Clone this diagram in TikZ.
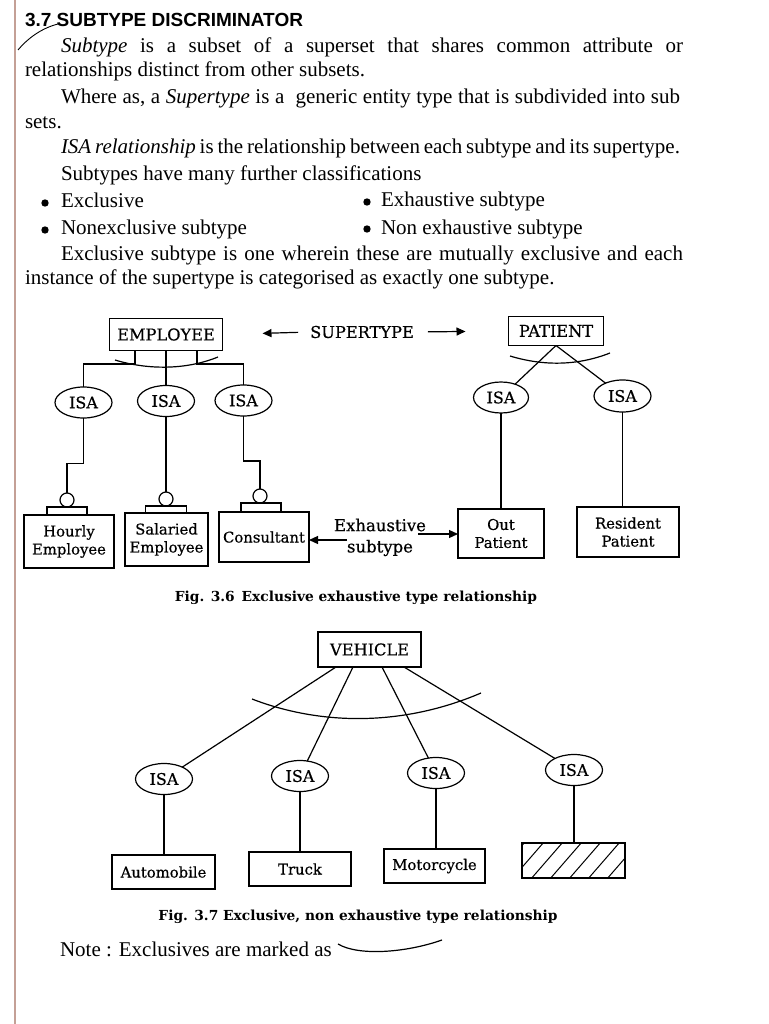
\documentclass[tikz,border=0pt]{standalone}
\usepackage{fontspec}
\setmainfont{Liberation Serif}
\newfontfamily\dfont[FakeBold=0.5]{DejaVu Serif}
\newfontfamily\cfont{DejaVu Serif}
\newfontfamily\tfont{Liberation Sans}
\usetikzlibrary{shapes.geometric,arrows.meta,calc}
\begin{document}
\begin{tikzpicture}[x=1pt,y=-1pt,
  every node/.style={inner sep=0pt, outer sep=0pt},
  body/.style={anchor=base west, font=\fontsize{21}{24}\selectfont},
  lbl/.style={font=\dfont\fontsize{14.8}{18}\selectfont, align=center},
  ent/.style={draw, line width=1.2pt, rectangle, lbl},
  isa/.style={draw, line width=1.2pt, ellipse, minimum width=57pt, minimum height=31pt, font=\dfont\fontsize{16}{17}\selectfont},
  ring/.style={draw, line width=1.2pt, circle, minimum size=14pt},
  bar/.style={draw, line width=1.2pt, rectangle, minimum width=40pt},
  conn/.style={line width=1.2pt},
  arw/.style={line width=1.2pt, -{Triangle[length=9pt,width=8pt]}},
  capt/.style={font=\cfont\bfseries\fontsize{13.8}{16}\selectfont}
]
\useasboundingbox (0,0) rectangle (768,1024);
\fill[white] (0,0) rectangle (768,1024);
\draw[color={rgb,255:red,196;green,160;blue,150}, line width=2pt] (15,0) -- (15,1024);

% ---- text ----
\node[anchor=base west, font=\tfont\bfseries\fontsize{19}{22}\selectfont] (title) at (25,27) {3.7 SUBTYPE DISCRIMINATOR};
\draw[line width=0.9pt] (18,50) .. controls (28,38) and (42,28) .. (58,24);
\node[body] (l1) at (61,53) {\makebox[622pt][s]{\textit{Subtype} is a subset of a superset that shares common attribute or}};
\node[body] (l2) at (25,77) {relationships distinct from other subsets.};
\node[body] (l3) at (61,104) {\makebox[619pt][s]{Where as, a \textit{Supertype} is a\ \ generic entity type that is subdivided into sub}};
\node[body] (l4) at (25,129) {sets.};
\node[body] (l5) at (61,154) {\makebox[619pt][s]{\textit{ISA relationship} is the relationship between each subtype and its supertype.}};
\node[body] (l6) at (61,181) {Subtypes have many further classifications};
\fill (45,203) circle (3.7);
\node[body] (b1t) at (61,208) {Exclusive};
\fill (367,202) circle (3.7);
\node[body] (b2t) at (381,207) {Exhaustive subtype};
\fill (45,230) circle (3.7);
\node[body] (b3t) at (61,235) {Nonexclusive subtype};
\fill (367,229) circle (3.7);
\node[body] (b4t) at (381,234) {Non exhaustive subtype};
\node[body] (l9) at (61,260) {\makebox[622pt][s]{Exclusive subtype is one wherein these are mutually exclusive and each}};
\node[body] (l10) at (25,284) {instance of the supertype is categorised as exactly one subtype.};

% ---- Fig 3.6 ----
\node[ent, minimum width=113pt, minimum height=32pt, font=\dfont\fontsize{16.2}{18}\selectfont] (emp) at (166,334.5) {EMPLOYEE};
\node[font=\dfont\fontsize{16.2}{18}\selectfont] (sup) at (362,332) {SUPERTYPE};
\node[ent, minimum width=95pt, minimum height=29pt, font=\dfont\fontsize{16.2}{18}\selectfont] (pat) at (556,331) {PATIENT};
\draw[arw, shorten <=12pt, shorten >=40pt] (sup.west) -- (emp.east);
\draw[arw, shorten <=14pt, shorten >=43pt] (sup.east) -- (pat.west);

\node[isa] (isa1) at (83.5,402.5) {ISA};
\node[isa] (isa2) at (166,401) {ISA};
\node[isa] (isa3) at (243.5,400.5) {ISA};

\draw[conn] ([xshift=-31pt]emp.south) -- ++(0,13.5) -| (isa1.north);
\draw[conn] (emp.south) -- (isa2.north);
\draw[conn] ([xshift=31pt]emp.south) -- ++(0,13.5) -| (isa3.north);
\draw[conn] (115,360) .. controls (148,370) and (186,370) .. (218,357);

\node[ring] (c1) at (67,500) {};
\node[ring] (c2) at (166,499) {};
\node[ring] (c3) at (260,496) {};
\node[bar, minimum height=8pt] (r1) at (67,511) {};
\node[bar, minimum height=7pt, minimum width=41pt] (r2) at (166,509.5) {};
\node[bar, minimum height=9pt] (r3) at (261,507.5) {};
\node[ent, minimum width=90pt, minimum height=53pt] (hourly) at (69,541.5) {Hourly\\Employee};
\node[ent, minimum width=83pt, minimum height=53pt] (salaried) at (166.5,539.5) {Salaried\\Employee};
\node[ent, minimum width=90pt, minimum height=50pt] (cons) at (264,537) {Consultant};

\draw[conn] (isa1.south) -- ++(0,45.5) -| (c1.north);
\draw[conn] (isa2.south) -- (c2.north);
\draw[conn] (isa3.south) -- ++(0,45) -| (c3.north);

\node[isa, minimum width=55pt] (pisa1) at (501,397.5) {ISA};
\node[isa, minimum height=32pt] (pisa2) at (622.5,396) {ISA};
\draw[conn] (pat.south) -- (pisa1);
\draw[conn] (pat.south) -- (pisa2);
\draw[conn] (510,356) .. controls (543,366) and (577,366) .. (610,353);
\node[ent, minimum width=86pt, minimum height=49pt] (outp) at (501,533.5) {Out\\Patient};
\node[ent, minimum width=102pt, minimum height=50pt] (resp) at (628,532) {Resident\\Patient};
\draw[conn] (pisa1.south) -- (outp.north);
\draw[conn] (pisa2.south) -- (pisa2.south |- resp.north);

\node[font=\dfont\fontsize{16.5}{20}\selectfont] (exh1) at (380,525) {Exhaustive};
\node[font=\dfont\fontsize{16.5}{20}\selectfont] (exh2) at (380,548) {subtype};
\coordinate (exL) at (347,540);
\coordinate (exR) at (418,534);
\draw[arw] (exL) -- (cons.east |- exL);
\draw[arw] (exR) -- (outp.west |- exR);

\node[capt] (cap1) at (356,598) {Fig. 3.6\enspace Exclusive exhaustive type relationship};

% ---- Fig 3.7 ----
\node[ent, minimum width=103pt, minimum height=35pt, font=\dfont\fontsize{16.2}{18}\selectfont] (veh) at (369.5,649.5) {VEHICLE};
\node[isa] (visa1) at (164,779) {ISA};
\node[isa] (visa2) at (300,776) {ISA};
\node[isa] (visa3) at (436,773) {ISA};
\node[isa] (visa4) at (574,770) {ISA};
\draw[conn] ([xshift=-33.5pt]veh.south) -- (visa1);
\draw[conn] ([xshift=-16.5pt]veh.south) -- (visa2);
\draw[conn] ([xshift=12.5pt]veh.south) -- (visa3);
\draw[conn] ([xshift=34.5pt]veh.south) -- (visa4);
\draw[conn] (252,699) .. controls (322,726) and (404,726) .. (481,693);

\node[ent, minimum width=103pt, minimum height=34pt] (auto) at (163.5,872) {Automobile};
\node[ent, minimum width=102pt, minimum height=34pt] (truck) at (300,869) {Truck};
\node[ent, minimum width=101pt, minimum height=34pt] (moto) at (434.5,866) {Motorcycle};
\node[draw, line width=1.2pt, minimum width=103pt, minimum height=35pt] (hatch) at (573.5,860.5) {};
\begin{scope}
\clip (hatch.south west) rectangle (hatch.north east);
\foreach \k in {0,...,8} {
  \draw[line width=1pt] (492+\k*19,880) -- ++(33,-38);
}
\end{scope}
\draw[conn] (visa1.south) -- (visa1.south |- auto.north);
\draw[conn] (visa2.south) -- (visa2.south |- truck.north);
\draw[conn] (visa3.south) -- (visa3.south |- moto.north);
\draw[conn] (visa4.south) -- (visa4.south |- hatch.north);

\node[capt] (cap2) at (358,917) {Fig. 3.7 Exclusive, non exhaustive type relationship};
\node[anchor=base west, font=\fontsize{21}{24}\selectfont] (note) at (60,956) {Note : Exclusives are marked as};
\draw[line width=1.2pt] (338,944) .. controls (358,956) and (405,953) .. (442,940);
\end{tikzpicture}
\end{document}
